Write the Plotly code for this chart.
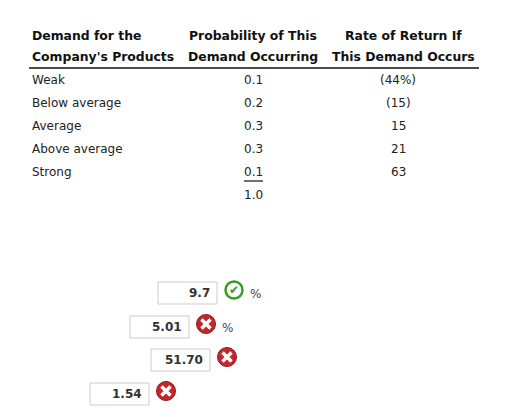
import plotly.graph_objects as go

demand = ["Weak", "Below average", "Average", "Above average", "Strong"]
probability = ["0.1", "0.2", "0.3", "0.3", "0.1"]
returns = ["(44%)", "(15)", "15", "21", "63"]
total_prob = "1.0"
answer_labels = ["Stock's expected return:", "Standard deviation:", "Coefficient of variation:", "Sharpe ratio:"]
answer_values = ["9.7", "5.01", "51.70", "1.54"]
answer_correct = [True, False, False, False]
answer_units = ["%", "%", "", ""]

F = "DejaVu Sans"
TXT = "#333333"
fig = go.Figure()
ann = []
shapes = []

def t(x, y, s, size=12, color=TXT, anchor="left", bold=False):
    ann.append(dict(x=x, y=y, text=f"<b>{s}</b>" if bold else s, showarrow=False,
                    xanchor=anchor, yanchor="middle", font=dict(family=F, size=size, color=color)))

t(4, 8, "A stock's returns have the following distribution:", 12, "#444")
t(30, 35, "Demand for the", 12.4, "#111", bold=True)
t(30, 56, "Company's Products", 12.4, "#111", bold=True)
t(253, 35, "Probability of This", 12.4, "#111", "center", True)
t(253, 56, "Demand Occurring", 12.4, "#111", "center", True)
t(403, 35, "Rate of Return If", 12.4, "#111", "center", True)
t(403, 56, "This Demand Occurs", 12.4, "#111", "center", True)
shapes.append(dict(type="line", x0=29, x1=479, y0=68, y1=68, line=dict(color="#111", width=1.5)))

row_y = [80, 103, 126, 149, 172]
for y, d, p, r in zip(row_y, demand, probability, returns):
    t(30, y, d, 12, "#222")
    t(253, y, p, 12, "#222", "center")
    t(398, y, r, 12, "#222", "center")
shapes.append(dict(type="line", x0=244, x1=263, y0=181, y1=181, line=dict(color="#111", width=1.2)))
t(253, 195, total_prob, 12, "#222", "center")

para = ["Assume the risk-free rate is 2%. Calculate the stock's expected return, standard",
        "deviation, coefficient of variation, and Sharpe ratio. Do not round intermediate",
        "calculations. Round your answers to two decimal places."]
for i, line in enumerate(para):
    t(4, 216 + 23 * i, line, 11.6, "#444")

ys = [293, 327, 360, 394]
box_x0 = [158, 130, 151, 90]
box_w = 59
for y, lab, val, ok, unit, bx in zip(ys, answer_labels, answer_values, answer_correct, answer_units, box_x0):
    t(4, y, lab, 12, "#444")
    shapes.append(dict(type="rect", x0=bx, x1=bx + box_w, y0=y - 11, y1=y + 11,
                       line=dict(color="#cccccc", width=1), fillcolor="white"))
    t(bx + box_w - 5, y, val, 12, "#333", "right", True)
    ix = bx + box_w + 17
    iy = y - 3
    if ok:
        fig.add_trace(go.Scatter(x=[ix], y=[iy], mode="markers", marker=dict(size=17, color="white",
                                 line=dict(color="#3a9a2a", width=2.5)), hoverinfo="skip"))
        t(ix, iy, "✔", 12, "#3a9a2a", "center", True)
    else:
        fig.add_trace(go.Scatter(x=[ix], y=[iy], mode="markers", marker=dict(size=19, color="#c0282d",
                                 line=dict(color="#8e1a1e", width=1)), hoverinfo="skip"))
        fig.add_trace(go.Scatter(x=[ix], y=[iy], mode="markers", marker=dict(size=9, symbol="x-thin",
                                 line=dict(color="white", width=3.5)), hoverinfo="skip"))
    if unit:
        t(ix + 14, y + 1, unit, 12, "#444")

shapes.append(dict(type="line", x0=507, x1=507, y0=0, y1=417, line=dict(color="#dddddd", width=1)))
fig.update_layout(width=509, height=417, margin=dict(l=0, r=0, t=0, b=0),
                  paper_bgcolor="white", plot_bgcolor="white", showlegend=False,
                  annotations=ann, shapes=shapes,
                  xaxis=dict(range=[8, 517], visible=False, fixedrange=True),
                  yaxis=dict(range=[425, 8], visible=False, fixedrange=True))
fig.write_html("out.html")
